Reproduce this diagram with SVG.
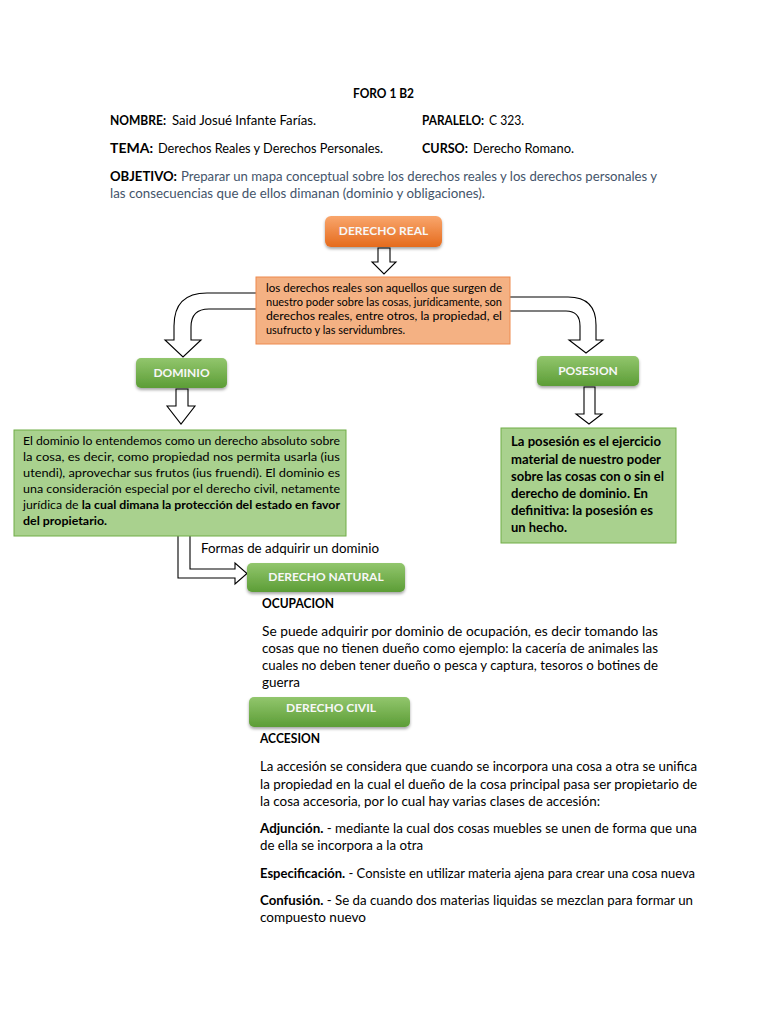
<svg xmlns="http://www.w3.org/2000/svg" width="768" height="1024" viewBox="0 0 768 1024">
<defs>
<linearGradient id="gOr" x1="0" y1="0" x2="0" y2="1"><stop offset="0" stop-color="#f9a66d"/><stop offset="1" stop-color="#e56b1c"/></linearGradient>
<linearGradient id="gGr" x1="0" y1="0" x2="0" y2="1"><stop offset="0" stop-color="#92c66d"/><stop offset="1" stop-color="#5c9d36"/></linearGradient>
<filter id="sh" x="-10%" y="-20%" width="120%" height="160%"><feDropShadow dx="0" dy="2" stdDeviation="1.5" flood-color="#000" flood-opacity="0.35"/></filter>
<style>
text{font-family:Lato,"Liberation Sans",sans-serif;fill:#000}
.b{font-weight:bold}
.h{font-size:13px}
.lbl{font-size:12px;fill:#f7f7f7;text-anchor:middle;font-weight:bold}
.or{font-size:10.5px}
.dom{font-size:11.5px}
.pos{font-size:13.5px;font-weight:bold}
.body{font-size:13px}
.obj{fill:#44546a}
.arrow{fill:#fff;stroke:#000;stroke-width:1.1}
.btnO{fill:url(#gOr);filter:url(#sh)}
.btnG{fill:url(#gGr);filter:url(#sh)}
</style>
</defs>
<rect width="768" height="1024" fill="#fff"/>

<g id="header">
<text class="h b" x="353" y="98" textLength="61" lengthAdjust="spacingAndGlyphs">FORO 1 B2</text>
<text class="h b" x="110" y="125" textLength="56" lengthAdjust="spacingAndGlyphs">NOMBRE:</text>
<text class="h" x="172" y="125" textLength="144" lengthAdjust="spacingAndGlyphs">Said Josué Infante Farías.</text>
<text class="h b" x="422" y="125" textLength="62" lengthAdjust="spacingAndGlyphs">PARALELO:</text>
<text class="h" x="489" y="125" textLength="35" lengthAdjust="spacingAndGlyphs">C 323.</text>
<text class="h b" x="110" y="153" textLength="43" lengthAdjust="spacingAndGlyphs">TEMA:</text>
<text class="h" x="158" y="153" textLength="225" lengthAdjust="spacingAndGlyphs">Derechos Reales y Derechos Personales.</text>
<text class="h b" x="422" y="153" textLength="46" lengthAdjust="spacingAndGlyphs">CURSO:</text>
<text class="h" x="473" y="153" textLength="101" lengthAdjust="spacingAndGlyphs">Derecho Romano.</text>
<text class="h b" x="110" y="181" textLength="67" lengthAdjust="spacingAndGlyphs">OBJETIVO:</text>
<text class="h obj" x="181" y="181" textLength="476" lengthAdjust="spacingAndGlyphs">Preparar un mapa conceptual sobre los derechos reales y los derechos personales y</text>
<text class="h obj" x="110" y="198" textLength="375" lengthAdjust="spacingAndGlyphs">las consecuencias que de ellos dimanan (dominio y obligaciones).</text>
</g>

<g id="connectors">
<path class="arrow" d="M378,248 H390 V262 H396 L384,274 L372,262 H378 Z"/>
<path class="arrow" d="M258,293 H207 Q174,293 174,326 V340 H165 L183,357 L201,340 H191 V327 Q191,309 209,309 H258"/>
<path class="arrow" d="M508,297 H568 Q596,297 596,325 V340 H603 L586,353 L569,340 H580 V326 Q580,311 566,311 H508"/>
<path class="arrow" d="M176,389 H188 V406 H195 L181,424 L167,406 H176 Z"/>
<path class="arrow" d="M584,387 H595 V414 H602 L589,424 L576,414 H584 Z"/>
<path class="arrow" d="M178,536 V578 H235 V584 L247,573.5 L235,563 V569 H190 V536"/>
</g>

<g id="derecho-real">
<rect class="btnO" x="325" y="216" width="117" height="31" rx="6"/>
<text class="lbl" x="383.5" y="235">DERECHO REAL</text>
</g>

<g id="def-derechos-reales">
<rect x="256" y="277" width="254" height="67" fill="#f4b183" stroke="#ee8a4e" stroke-width="1"/>
<text class="or" x="266" y="292" textLength="236" lengthAdjust="spacingAndGlyphs">los derechos reales son aquellos que surgen de</text>
<text class="or" x="266" y="306" textLength="236" lengthAdjust="spacingAndGlyphs">nuestro poder sobre las cosas, jurídicamente, son</text>
<text class="or" x="266" y="320" textLength="236" lengthAdjust="spacingAndGlyphs">derechos reales, entre otros, la propiedad, el</text>
<text class="or" x="266" y="334" textLength="139" lengthAdjust="spacingAndGlyphs">usufructo y las servidumbres.</text>
</g>

<g id="dominio">
<rect class="btnG" x="136" y="358" width="91" height="30" rx="5"/>
<text class="lbl" x="181.5" y="377">DOMINIO</text>
</g>

<g id="posesion">
<rect class="btnG" x="537" y="356" width="102" height="30" rx="5"/>
<text class="lbl" x="588" y="375">POSESION</text>
</g>

<g id="def-dominio">
<rect x="14" y="430" width="332" height="106" fill="#a9d18e" stroke="#70ad47" stroke-width="1"/>
<text class="dom" x="23" y="445" textLength="317" lengthAdjust="spacingAndGlyphs">El dominio lo entendemos como un derecho absoluto sobre</text>
<text class="dom" x="23" y="461" textLength="317" lengthAdjust="spacingAndGlyphs">la cosa, es decir, como propiedad nos permita usarla (ius</text>
<text class="dom" x="23" y="477" textLength="317" lengthAdjust="spacingAndGlyphs">utendi), aprovechar sus frutos (ius fruendi). El dominio es</text>
<text class="dom" x="23" y="493" textLength="317" lengthAdjust="spacingAndGlyphs">una consideración especial por el derecho civil, netamente</text>
<text class="dom" x="23" y="509" textLength="317" lengthAdjust="spacingAndGlyphs">jurídica de <tspan class="b">la cual dimana la protección del estado en favor</tspan></text>
<text class="dom b" x="23" y="525" textLength="84" lengthAdjust="spacingAndGlyphs">del propietario.</text>
</g>

<g id="def-posesion">
<rect x="501" y="428" width="175" height="115" fill="#a9d18e" stroke="#70ad47" stroke-width="1"/>
<text class="pos" x="511" y="446" textLength="150" lengthAdjust="spacingAndGlyphs">La posesión es el ejercicio</text>
<text class="pos" x="511" y="464" textLength="150" lengthAdjust="spacingAndGlyphs">material de nuestro poder</text>
<text class="pos" x="511" y="481" textLength="153" lengthAdjust="spacingAndGlyphs">sobre las cosas con o sin el</text>
<text class="pos" x="511" y="498" textLength="137" lengthAdjust="spacingAndGlyphs">derecho de dominio. En</text>
<text class="pos" x="511" y="515" textLength="142" lengthAdjust="spacingAndGlyphs">definitiva: la posesión es</text>
<text class="pos" x="511" y="532" textLength="56" lengthAdjust="spacingAndGlyphs">un hecho.</text>
</g>

<g id="formas-label">
<text class="body" x="201" y="553" textLength="178" lengthAdjust="spacingAndGlyphs">Formas de adquirir un dominio</text>
</g>

<g id="derecho-natural">
<rect class="btnG" x="247" y="563" width="158" height="29" rx="5"/>
<text class="lbl" x="326" y="581">DERECHO NATURAL</text>
</g>

<g id="ocupacion">
<text class="body b" x="262" y="608" textLength="72" lengthAdjust="spacingAndGlyphs">OCUPACION</text>
<text class="body" x="262" y="636" textLength="396" lengthAdjust="spacingAndGlyphs">Se puede adquirir por dominio de ocupación, es decir tomando las</text>
<text class="body" x="262" y="653" textLength="396" lengthAdjust="spacingAndGlyphs">cosas que no tienen dueño como ejemplo: la cacería de animales las</text>
<text class="body" x="262" y="670" textLength="396" lengthAdjust="spacingAndGlyphs">cuales no deben tener dueño o pesca y captura, tesoros o botines de</text>
<text class="body" x="262" y="687" textLength="38" lengthAdjust="spacingAndGlyphs">guerra</text>
</g>

<g id="derecho-civil">
<rect class="btnG" x="249" y="697" width="161" height="30" rx="5"/>
<text class="lbl" x="331" y="712">DERECHO CIVIL</text>
</g>

<g id="accesion">
<text class="body b" x="260" y="743" textLength="60" lengthAdjust="spacingAndGlyphs">ACCESION</text>
<text class="body" x="260" y="771" textLength="437" lengthAdjust="spacingAndGlyphs">La accesión se considera que cuando se incorpora una cosa a otra se unifica</text>
<text class="body" x="260" y="789" textLength="437" lengthAdjust="spacingAndGlyphs">la propiedad en la cual el dueño de la cosa principal pasa ser propietario de</text>
<text class="body" x="260" y="806" textLength="340" lengthAdjust="spacingAndGlyphs">la cosa accesoria, por lo cual hay varias clases de accesión:</text>
<text class="body" x="260" y="833" textLength="437" lengthAdjust="spacingAndGlyphs"><tspan class="b">Adjunción.</tspan> - mediante la cual dos cosas muebles se unen de forma que una</text>
<text class="body" x="260" y="850" textLength="163" lengthAdjust="spacingAndGlyphs">de ella se incorpora a la otra</text>
<text class="body" x="260" y="878" textLength="435" lengthAdjust="spacingAndGlyphs"><tspan class="b">Especificación.</tspan> - Consiste en utilizar materia ajena para crear una cosa nueva</text>
<text class="body" x="260" y="905" textLength="433" lengthAdjust="spacingAndGlyphs"><tspan class="b">Confusión.</tspan> - Se da cuando dos materias liquidas se mezclan para formar un</text>
<text class="body" x="260" y="922" textLength="106" lengthAdjust="spacingAndGlyphs">compuesto nuevo</text>
</g>
</svg>
